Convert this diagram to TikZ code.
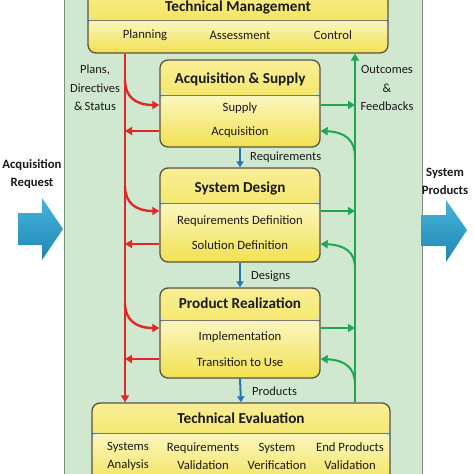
\documentclass[tikz,border=0pt]{standalone}
\usepackage{fontspec}
\setmainfont{Carlito}
\usetikzlibrary{arrows.meta,calc}
\definecolor{bggreen}{HTML}{CFE8CF}
\definecolor{bgborder}{HTML}{7F8F7F}
\definecolor{boxborder}{HTML}{5A5245}
\definecolor{ytop}{HTML}{F8EE96}
\definecolor{ymid}{HTML}{F0DE30}
\definecolor{ypale}{HTML}{FBF6C0}
\definecolor{yedge}{HTML}{F1E150}
\definecolor{redc}{HTML}{E02828}
\definecolor{greenc}{HTML}{22A455}
\definecolor{bluec}{HTML}{2474B8}
\definecolor{arrlight}{HTML}{48B4DA}
\definecolor{arrdark}{HTML}{1E86B4}
\definecolor{txt}{HTML}{1A1A1A}
\tikzset{
  ybox/.style={rectangle, rounded corners=8pt, draw=boxborder, line width=1.3pt, inner sep=0pt,
    path picture={
      \shade[top color=ytop, bottom color=ymid] (path picture bounding box.north west) rectangle ([yshift=-#1]path picture bounding box.north east);
      \shade[top color=ypale, bottom color=yedge] ([yshift=-#1]path picture bounding box.north west) rectangle (path picture bounding box.south east);
      \draw[line width=0.8pt, draw=boxborder!80] ([yshift=-#1]path picture bounding box.north west) -- ([yshift=-#1]path picture bounding box.north east);
    }},
  ttl/.style={font=\fontsize{15.2}{16}\selectfont\bfseries, text=txt, inner sep=0pt},
  itm/.style={font=\fontsize{12.7}{18}\selectfont, text=txt, inner sep=0pt, align=center},
  lbl/.style={font=\fontsize{12.5}{18.5}\selectfont, text=txt, inner sep=0pt, align=center},
  blbl/.style={font=\fontsize{12.7}{18}\selectfont\bfseries, text=txt, inner sep=0pt, align=center},
  redline/.style={draw=redc, line width=2.4pt, -{Triangle[length=7pt,width=8pt]}},
  greenline/.style={draw=greenc, line width=2pt, -{Triangle[length=7pt,width=8pt]}},
  blueline/.style={draw=bluec, line width=2pt, -{Triangle[length=6pt,width=7pt]}},
}
\begin{document}
\begin{tikzpicture}[x=1pt,y=1pt]
\useasboundingbox (0,0) rectangle (474,-474);
\clip (0,0) rectangle (474,-474);
\fill[white] (0,0) rectangle (474,-474);
% background panel
\draw[fill=bggreen, draw=bgborder, line width=0.8pt] (64,6) rectangle (422,-480);

% big arrows
\shade[top color=arrlight, bottom color=arrdark] (18,-213) -- (42,-213) -- (42,-198) -- (63,-229) -- (42,-260) -- (42,-245) -- (18,-245) -- cycle;
\shade[top color=arrlight, bottom color=arrdark] (421,-215) -- (446,-215) -- (446,-200) -- (467,-230) -- (446,-262) -- (446,-246) -- (421,-246) -- cycle;
\node[blbl] (req) at (32,-174) {Acquisition\\Request};
\node[blbl] (sp) at (445,-181) {System\\Products};

% boxes
\node[ybox=36pt, minimum width=300pt, minimum height=69pt] (tm) at (238,-18.5) {};
\node[ybox=35pt, minimum width=160pt, minimum height=87pt] (as) at (240,-103.5) {};
\node[ybox=35pt, minimum width=160pt, minimum height=94pt] (sd) at (240,-215) {};
\node[ybox=32pt, minimum width=160pt, minimum height=90pt] (pr) at (240,-333) {};
\node[ybox=30pt, minimum width=298pt, minimum height=87pt] (te) at (241,-446.5) {};

% box texts
\node[ttl] (tmt) at (238,-7) {Technical Management};
\node[itm] (tm1) at (145,-35) {Planning};
\node[itm] (tm2) at (240,-35) {Assessment};
\node[itm] (tm3) at (333,-35) {Control};

\node[ttl] (ast) at (240,-79) {Acquisition \& Supply};
\node[itm] (as1) at (240,-108) {Supply};
\node[itm] (as2) at (240,-132) {Acquisition};

\node[ttl] (sdt) at (240,-188) {System Design};
\node[itm] (sd1) at (240,-221) {Requirements Definition};
\node[itm] (sd2) at (240,-245) {Solution Definition};

\node[ttl] (prt) at (240,-303) {Product Realization};
\node[itm] (pr1) at (240,-337) {Implementation};
\node[itm] (pr2) at (240,-362) {Transition to Use};

\node[ttl] (tet) at (241,-418) {Technical Evaluation};
\node[itm] (te1) at (128,-456) {Systems\\Analysis};
\node[itm] (te2) at (203,-456) {Requirements\\Validation};
\node[itm] (te3) at (277,-456) {System\\Verification};
\node[itm] (te4) at (350,-456) {End Products\\Validation};

% side labels
\node[lbl] (pds) at (95,-88) {Plans,\\Directives\\\&\,Status};
\node[lbl] (oaf) at (387,-88) {Outcomes\\\&\\Feedbacks};
\node[lbl, anchor=west] (lreq) at (250,-157) {Requirements};
\node[lbl, anchor=west] (ldes) at (251,-276) {Designs};
\node[lbl, anchor=west] (lprod) at (252,-391) {Products};

% reference coordinates
\coordinate (rx) at (125,0);
\coordinate (gx) at (355,0);
\coordinate (a1) at (0,-105);
\coordinate (a2) at (0,-131);
\coordinate (b1) at (0,-211);
\coordinate (b2) at (0,-244);
\coordinate (c1) at (0,-328);
\coordinate (c2) at (0,-359);

% main red and green lines
\draw[redline] (tm.south -| rx) -- (te.north -| rx);
\draw[greenline] (te.north -| gx) -- (tm.south -| gx);

% red in-curves
\coordinate (ra1) at (125,-80);
\coordinate (rb1) at (125,-186);
\coordinate (rc1) at (125,-303);
\draw[redline] (ra1) .. controls (125,-97) and (136,-105) .. (as.west |- a1);
\draw[redline] (rb1) .. controls (125,-203) and (136,-211) .. (sd.west |- b1);
\draw[redline] (rc1) .. controls (125,-320) and (136,-328) .. (pr.west |- c1);
% red out arrows
\draw[redline] (as.west |- a2) -- (rx |- a2);
\draw[redline] (sd.west |- b2) -- (rx |- b2);
\draw[redline] (pr.west |- c2) -- (rx |- c2);

% green out arrows
\draw[greenline] (as.east |- a1) -- (gx |- a1);
\draw[greenline] (sd.east |- b1) -- (gx |- b1);
\draw[greenline] (pr.east |- c1) -- (gx |- c1);
% green in-curves
\coordinate (ga2) at (355,-157);
\coordinate (gb2) at (355,-268);
\coordinate (gc2) at (355,-384);
\draw[greenline] (ga2) .. controls (355,-140) and (345,-132) .. (as.east |- a2);
\draw[greenline] (gb2) .. controls (355,-252) and (345,-245) .. (sd.east |- b2);
\draw[greenline] (gc2) .. controls (355,-368) and (345,-360) .. (pr.east |- c2);

% blue flow arrows
\draw[blueline] (as.south) -- (sd.north);
\draw[blueline] (sd.south) -- (pr.north);
\draw[blueline] (pr.south) -- (te.north);
\end{tikzpicture}
\end{document}
